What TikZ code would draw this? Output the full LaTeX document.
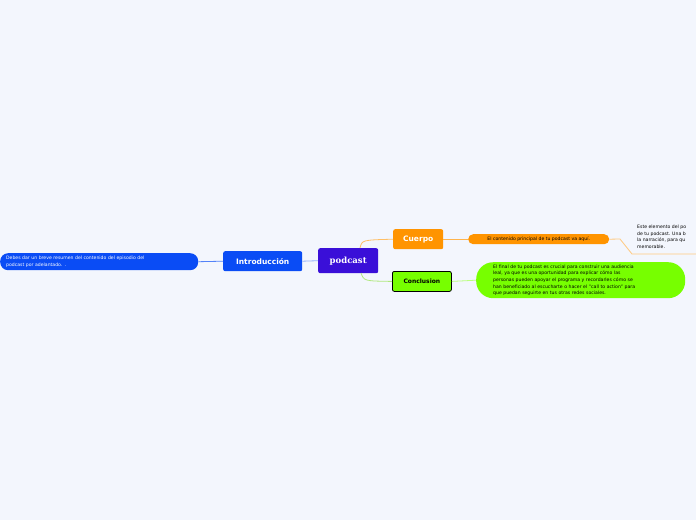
\documentclass[tikz,border=0pt]{standalone}
\usepackage{fontspec}
\setmainfont{DejaVu Sans}
\newfontfamily\serifb{DejaVu Serif}
\definecolor{bg}{HTML}{F3F6FD}
\definecolor{pod}{HTML}{3A0FD8}
\definecolor{blu}{HTML}{0A4CF5}
\definecolor{ora}{HTML}{FF9400}
\definecolor{grn}{HTML}{77FF00}
\begin{document}
\begin{tikzpicture}[x=1pt,y=-1pt,
  box/.style={rounded corners=2pt,inner sep=0pt,anchor=north west},
  tiny/.style={font=\fontsize{4.6}{6.6}\selectfont,align=left},
  lnk/.style={line width=0.8pt}]
\fill[bg] (0,0) rectangle (696,520);
\useasboundingbox (0,0) rectangle (696,520);
% main
\node[box,fill=pod,minimum width=60,minimum height=25,text=white,font=\serifb\bfseries\fontsize{8.5}{10}\selectfont] (pod) at (318,248) {podcast};
\node[box,fill=blu,minimum width=79,minimum height=20,text=white,font=\bfseries\fontsize{7.5}{9}\selectfont] (intro) at (223,251) {Introducción};
\node[box,fill=blu,rounded corners=8pt,minimum width=198,minimum height=17,text=white,tiny,text width=186,inner xsep=6] (il) at (0,253) {Debes dar un breve resumen del contenido del episodio del\\podcast por adelantado. .};
\node[box,fill=ora,minimum width=50,minimum height=20,text=white,font=\bfseries\fontsize{7.5}{9}\selectfont] (cu) at (393,229) {Cuerpo};
\node[box,fill=ora,rounded corners=5pt,minimum width=141,minimum height=10,tiny] (cl) at (468,234) {El contenido principal de tu podcast va aquí.};
\node[box,fill=grn,draw=black,line width=0.8pt,minimum width=59,minimum height=20,font=\bfseries\fontsize{6}{8}\selectfont] (co) at (392,271) {Conclusion};
\node[box,fill=grn,rounded corners=17pt,minimum width=209,minimum height=36,tiny,text width=175,inner xsep=17] (gl) at (476,262) {El final de tu podcast es crucial para construir una audiencia\\leal, ya que es una oportunidad para explicar cómo las\\personas pueden apoyar el programa y recordarles cómo se\\han beneficiado al escucharte o hacer el "call to action" para\\que puedan seguirte en tus otras redes sociales.};
\node[anchor=north west,inner sep=0pt,tiny] (rt) at (637,225) {Este elemento del po\\de tu podcast. Una b\\la narración, para qu\\memorable.};
\coordinate (u1) at (632,254);
\coordinate (u2) at (696,254);
% links
\draw[lnk,blu!45] (pod.west) -- (intro.east);
\draw[lnk,blu!70] (intro.west) -- (il.east);
\draw[lnk,ora!60] (pod.west|-pod.north) ++(42,0) .. controls (362,240) .. (cu.west);
\draw[lnk,grn!70!gray!60] (361,273) .. controls (364,281) .. (co.west);
\draw[lnk,ora!70] (cu.east) -- (cl.west);
\draw[lnk,grn!50] (co.east) -- (gl.west);
\draw[lnk,ora!50] (cl.east) -- (620,239) -- (u1) -- (u2);
\end{tikzpicture}
\end{document}
